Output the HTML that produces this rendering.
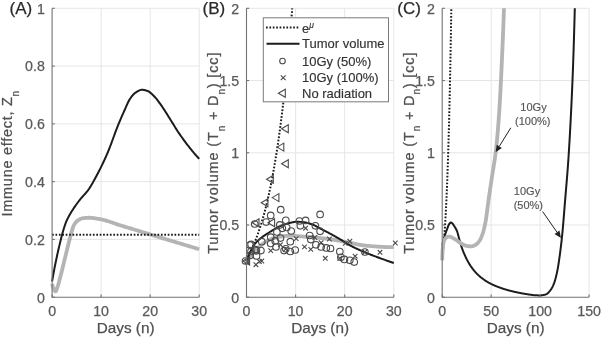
<!DOCTYPE html>
<html><head><meta charset="utf-8"><title>Figure</title>
<style>html,body{margin:0;padding:0;background:#fff;overflow:hidden}svg{display:block}text{stroke-linejoin:round}</style></head>
<body><svg width="601" height="337" viewBox="0 0 601 337" font-family="'Liberation Sans', Arial, Helvetica, sans-serif">
<rect width="601" height="337" fill="#fff"/>
<g stroke="#e3e3e3" stroke-width="0.9"><line x1="101.13" y1="8.3" x2="101.13" y2="297.2"/><line x1="150.17" y1="8.3" x2="150.17" y2="297.2"/><line x1="199.2" y1="8.3" x2="199.2" y2="297.2"/><line x1="52.1" y1="239.42" x2="199.2" y2="239.42"/><line x1="52.1" y1="181.64" x2="199.2" y2="181.64"/><line x1="52.1" y1="123.86" x2="199.2" y2="123.86"/><line x1="52.1" y1="66.08" x2="199.2" y2="66.08"/><line x1="52.1" y1="8.3" x2="199.2" y2="8.3"/></g>
<path d="M52.1 283.91 L52.84 286.57 L53.58 288.63 L54.32 290.04 L55.06 291.13 L55.8 291.33 L56.54 289.92 L57.27 287.72 L58.01 285.53 L58.75 282.95 L59.49 280.14 L60.23 277.32 L60.97 274.46 L61.71 271.5 L62.45 268.49 L63.19 265.43 L63.93 262.38 L64.67 259.35 L65.41 256.36 L66.14 253.34 L66.88 250.3 L67.62 247.27 L68.36 244.29 L69.1 241.39 L69.84 238.61 L70.58 235.9 L71.32 233.09 L72.06 230.36 L72.8 227.91 L73.54 225.94 L74.28 224.56 L75.02 223.4 L75.75 222.41 L76.49 221.59 L77.23 220.91 L77.97 220.38 L78.71 219.9 L79.45 219.47 L80.19 219.09 L80.93 218.77 L81.67 218.52 L82.41 218.35 L83.15 218.23 L83.89 218.13 L84.62 218.03 L85.36 217.95 L86.1 217.88 L86.84 217.82 L87.58 217.78 L88.32 217.76 L89.06 217.75 L89.8 217.77 L90.54 217.8 L91.28 217.85 L92.02 217.92 L92.76 218 L93.49 218.09 L94.23 218.19 L94.97 218.3 L95.71 218.42 L96.45 218.54 L97.19 218.67 L97.93 218.8 L98.67 218.93 L99.41 219.07 L100.15 219.2 L100.89 219.33 L101.63 219.48 L102.37 219.64 L103.1 219.82 L103.84 220 L104.58 220.2 L105.32 220.4 L106.06 220.62 L106.8 220.84 L107.54 221.07 L108.28 221.3 L109.02 221.54 L109.76 221.79 L110.5 222.04 L111.24 222.29 L111.97 222.55 L112.71 222.8 L113.45 223.06 L114.19 223.32 L114.93 223.57 L115.67 223.83 L116.41 224.08 L117.15 224.33 L117.89 224.58 L118.63 224.82 L119.37 225.05 L120.11 225.28 L120.85 225.5 L121.58 225.73 L122.32 225.95 L123.06 226.18 L123.8 226.4 L124.54 226.62 L125.28 226.85 L126.02 227.07 L126.76 227.29 L127.5 227.52 L128.24 227.74 L128.98 227.97 L129.72 228.19 L130.45 228.41 L131.19 228.64 L131.93 228.86 L132.67 229.08 L133.41 229.31 L134.15 229.53 L134.89 229.76 L135.63 229.98 L136.37 230.2 L137.11 230.43 L137.85 230.65 L138.59 230.88 L139.33 231.1 L140.06 231.33 L140.8 231.56 L141.54 231.78 L142.28 232.01 L143.02 232.24 L143.76 232.46 L144.5 232.69 L145.24 232.92 L145.98 233.15 L146.72 233.37 L147.46 233.6 L148.2 233.83 L148.93 234.06 L149.67 234.29 L150.41 234.51 L151.15 234.74 L151.89 234.97 L152.63 235.2 L153.37 235.42 L154.11 235.65 L154.85 235.88 L155.59 236.1 L156.33 236.33 L157.07 236.55 L157.81 236.78 L158.54 237 L159.28 237.23 L160.02 237.45 L160.76 237.67 L161.5 237.9 L162.24 238.12 L162.98 238.34 L163.72 238.57 L164.46 238.79 L165.2 239.01 L165.94 239.24 L166.68 239.46 L167.41 239.68 L168.15 239.91 L168.89 240.13 L169.63 240.35 L170.37 240.57 L171.11 240.8 L171.85 241.02 L172.59 241.24 L173.33 241.46 L174.07 241.69 L174.81 241.91 L175.55 242.13 L176.28 242.35 L177.02 242.58 L177.76 242.8 L178.5 243.02 L179.24 243.24 L179.98 243.47 L180.72 243.69 L181.46 243.91 L182.2 244.13 L182.94 244.36 L183.68 244.58 L184.42 244.8 L185.16 245.02 L185.89 245.25 L186.63 245.47 L187.37 245.69 L188.11 245.91 L188.85 246.13 L189.59 246.36 L190.33 246.58 L191.07 246.8 L191.81 247.02 L192.55 247.25 L193.29 247.47 L194.03 247.69 L194.76 247.91 L195.5 248.13 L196.24 248.36 L196.98 248.58 L197.72 248.8 L198.46 249.02 L199.2 249.24" fill="none" stroke="#b4b4b4" stroke-width="3.8" stroke-linejoin="round"/>
<path d="M52.1 281.31 L52.84 277.1 L53.58 273.02 L54.32 269.08 L55.06 265.3 L55.8 261.68 L56.54 258.18 L57.27 254.8 L58.01 251.5 L58.75 248.29 L59.49 245.11 L60.23 241.97 L60.97 238.92 L61.71 236 L62.45 233.28 L63.19 230.74 L63.93 228.31 L64.67 226 L65.41 223.86 L66.14 221.93 L66.88 220.21 L67.62 218.64 L68.36 217.19 L69.1 215.83 L69.84 214.53 L70.58 213.26 L71.32 212.03 L72.06 210.83 L72.8 209.66 L73.54 208.53 L74.28 207.42 L75.02 206.34 L75.75 205.28 L76.49 204.25 L77.23 203.23 L77.97 202.23 L78.71 201.24 L79.45 200.27 L80.19 199.33 L80.93 198.43 L81.67 197.57 L82.41 196.74 L83.15 195.93 L83.89 195.12 L84.62 194.31 L85.36 193.49 L86.1 192.64 L86.84 191.75 L87.58 190.81 L88.32 189.82 L89.06 188.76 L89.8 187.64 L90.54 186.46 L91.28 185.24 L92.02 183.98 L92.76 182.68 L93.49 181.36 L94.23 180.03 L94.97 178.68 L95.71 177.32 L96.45 175.95 L97.19 174.57 L97.93 173.17 L98.67 171.74 L99.41 170.3 L100.15 168.84 L100.89 167.36 L101.63 165.86 L102.37 164.34 L103.1 162.79 L103.84 161.22 L104.58 159.63 L105.32 158.01 L106.06 156.36 L106.8 154.69 L107.54 152.98 L108.28 151.2 L109.02 149.35 L109.76 147.45 L110.5 145.51 L111.24 143.53 L111.97 141.53 L112.71 139.51 L113.45 137.49 L114.19 135.47 L114.93 133.46 L115.67 131.47 L116.41 129.51 L117.15 127.6 L117.89 125.73 L118.63 123.92 L119.37 122.13 L120.11 120.37 L120.85 118.64 L121.58 116.92 L122.32 115.22 L123.06 113.54 L123.8 111.88 L124.54 110.24 L125.28 108.6 L126.02 106.91 L126.76 105.21 L127.5 103.55 L128.24 101.99 L128.98 100.58 L129.72 99.37 L130.45 98.27 L131.19 97.21 L131.93 96.21 L132.67 95.28 L133.41 94.43 L134.15 93.69 L134.89 93.06 L135.63 92.55 L136.37 92.08 L137.11 91.62 L137.85 91.19 L138.59 90.79 L139.33 90.44 L140.06 90.16 L140.8 89.94 L141.54 89.81 L142.28 89.77 L143.02 89.81 L143.76 89.91 L144.5 90.05 L145.24 90.23 L145.98 90.44 L146.72 90.68 L147.46 90.92 L148.2 91.23 L148.93 91.65 L149.67 92.16 L150.41 92.74 L151.15 93.38 L151.89 94.06 L152.63 94.77 L153.37 95.47 L154.11 96.2 L154.85 96.98 L155.59 97.83 L156.33 98.72 L157.07 99.65 L157.81 100.61 L158.54 101.6 L159.28 102.6 L160.02 103.61 L160.76 104.63 L161.5 105.67 L162.24 106.74 L162.98 107.85 L163.72 108.98 L164.46 110.13 L165.2 111.29 L165.94 112.47 L166.68 113.65 L167.41 114.83 L168.15 116 L168.89 117.17 L169.63 118.33 L170.37 119.5 L171.11 120.69 L171.85 121.9 L172.59 123.11 L173.33 124.32 L174.07 125.53 L174.81 126.74 L175.55 127.94 L176.28 129.12 L177.02 130.28 L177.76 131.42 L178.5 132.54 L179.24 133.62 L179.98 134.67 L180.72 135.71 L181.46 136.75 L182.2 137.78 L182.94 138.81 L183.68 139.82 L184.42 140.83 L185.16 141.83 L185.89 142.82 L186.63 143.8 L187.37 144.77 L188.11 145.74 L188.85 146.69 L189.59 147.63 L190.33 148.57 L191.07 149.49 L191.81 150.4 L192.55 151.3 L193.29 152.19 L194.03 153.06 L194.76 153.92 L195.5 154.77 L196.24 155.61 L196.98 156.43 L197.72 157.24 L198.46 158.04 L199.2 158.82" fill="none" stroke="#1c1c1c" stroke-width="2" stroke-linejoin="round"/>
<line x1="52.1" y1="234.8" x2="199.2" y2="234.8" stroke="#1c1c1c" stroke-width="2" stroke-dasharray="1.7 1.7"/>
<g stroke="#727272" stroke-width="1.1"><path d="M52.1 8.3 V297.2 H199.2" fill="none"/><line x1="52.1" y1="297.2" x2="54.8" y2="297.2"/><line x1="52.1" y1="239.42" x2="54.8" y2="239.42"/><line x1="52.1" y1="181.64" x2="54.8" y2="181.64"/><line x1="52.1" y1="123.86" x2="54.8" y2="123.86"/><line x1="52.1" y1="66.08" x2="54.8" y2="66.08"/><line x1="52.1" y1="8.3" x2="54.8" y2="8.3"/><line x1="52.1" y1="297.2" x2="52.1" y2="294.5"/><line x1="101.13" y1="297.2" x2="101.13" y2="294.5"/><line x1="150.17" y1="297.2" x2="150.17" y2="294.5"/><line x1="199.2" y1="297.2" x2="199.2" y2="294.5"/></g>
<g font-size="14.2" fill="#5a5a5a" stroke="#5a5a5a" stroke-width="0.25"><text x="44.8" y="302.5" text-anchor="end">0</text><text x="44.8" y="244.72" text-anchor="end">0.2</text><text x="44.8" y="186.94" text-anchor="end">0.4</text><text x="44.8" y="129.16" text-anchor="end">0.6</text><text x="44.8" y="71.38" text-anchor="end">0.8</text><text x="44.8" y="13.6" text-anchor="end">1</text><text x="52.1" y="315.9" text-anchor="middle">0</text><text x="101.13" y="315.9" text-anchor="middle">10</text><text x="150.17" y="315.9" text-anchor="middle">20</text><text x="199.2" y="315.9" text-anchor="middle">30</text></g>
<text x="125.65" y="333.2" font-size="15.3" fill="#505050" stroke="#505050" stroke-width="0.25" text-anchor="middle">Days (n)</text>
<g stroke="#e3e3e3" stroke-width="0.9"><line x1="295.6" y1="8.3" x2="295.6" y2="297.2"/><line x1="344.7" y1="8.3" x2="344.7" y2="297.2"/><line x1="393.8" y1="8.3" x2="393.8" y2="297.2"/><line x1="246.5" y1="224.97" x2="393.8" y2="224.97"/><line x1="246.5" y1="152.75" x2="393.8" y2="152.75"/><line x1="246.5" y1="80.53" x2="393.8" y2="80.53"/><line x1="246.5" y1="8.3" x2="393.8" y2="8.3"/></g>
<path d="M246.5 261.09 L247.24 260.01 L247.98 258.97 L248.72 257.96 L249.46 256.98 L250.2 256.04 L250.94 255.14 L251.68 254.28 L252.42 253.45 L253.16 252.65 L253.9 251.87 L254.64 251.13 L255.38 250.41 L256.12 249.71 L256.86 249.03 L257.6 248.35 L258.34 247.67 L259.08 246.99 L259.82 246.33 L260.56 245.67 L261.3 245.04 L262.04 244.43 L262.78 243.84 L263.52 243.28 L264.26 242.75 L265.01 242.26 L265.75 241.81 L266.49 241.4 L267.23 241 L267.97 240.62 L268.71 240.24 L269.45 239.88 L270.19 239.53 L270.93 239.2 L271.67 238.89 L272.41 238.6 L273.15 238.33 L273.89 238.09 L274.63 237.87 L275.37 237.67 L276.11 237.51 L276.85 237.36 L277.59 237.21 L278.33 237.06 L279.07 236.92 L279.81 236.78 L280.55 236.64 L281.29 236.51 L282.03 236.39 L282.77 236.28 L283.51 236.17 L284.25 236.07 L284.99 235.98 L285.73 235.9 L286.47 235.83 L287.21 235.77 L287.95 235.72 L288.69 235.69 L289.43 235.67 L290.17 235.66 L290.91 235.67 L291.65 235.69 L292.39 235.72 L293.13 235.75 L293.87 235.79 L294.61 235.84 L295.35 235.9 L296.09 235.96 L296.83 236.02 L297.57 236.09 L298.31 236.16 L299.05 236.23 L299.79 236.29 L300.53 236.36 L301.27 236.42 L302.02 236.48 L302.76 236.54 L303.5 236.6 L304.24 236.65 L304.98 236.7 L305.72 236.76 L306.46 236.81 L307.2 236.87 L307.94 236.92 L308.68 236.98 L309.42 237.03 L310.16 237.09 L310.9 237.15 L311.64 237.21 L312.38 237.27 L313.12 237.33 L313.86 237.39 L314.6 237.45 L315.34 237.52 L316.08 237.59 L316.82 237.65 L317.56 237.73 L318.3 237.8 L319.04 237.87 L319.78 237.95 L320.52 238.03 L321.26 238.1 L322 238.19 L322.74 238.27 L323.48 238.35 L324.22 238.44 L324.96 238.53 L325.7 238.62 L326.44 238.71 L327.18 238.81 L327.92 238.9 L328.66 239 L329.4 239.1 L330.14 239.2 L330.88 239.3 L331.62 239.41 L332.36 239.52 L333.1 239.64 L333.84 239.76 L334.58 239.88 L335.32 240.01 L336.06 240.14 L336.8 240.28 L337.54 240.42 L338.28 240.56 L339.03 240.7 L339.77 240.84 L340.51 240.99 L341.25 241.13 L341.99 241.27 L342.73 241.42 L343.47 241.56 L344.21 241.7 L344.95 241.83 L345.69 241.97 L346.43 242.11 L347.17 242.25 L347.91 242.39 L348.65 242.54 L349.39 242.69 L350.13 242.85 L350.87 243 L351.61 243.16 L352.35 243.31 L353.09 243.47 L353.83 243.63 L354.57 243.78 L355.31 243.93 L356.05 244.08 L356.79 244.23 L357.53 244.38 L358.27 244.52 L359.01 244.66 L359.75 244.79 L360.49 244.92 L361.23 245.05 L361.97 245.17 L362.71 245.28 L363.45 245.38 L364.19 245.48 L364.93 245.57 L365.67 245.66 L366.41 245.73 L367.15 245.79 L367.89 245.86 L368.63 245.92 L369.37 245.98 L370.11 246.04 L370.85 246.1 L371.59 246.16 L372.33 246.22 L373.07 246.28 L373.81 246.33 L374.55 246.39 L375.29 246.44 L376.04 246.5 L376.78 246.55 L377.52 246.6 L378.26 246.65 L379 246.7 L379.74 246.74 L380.48 246.79 L381.22 246.83 L381.96 246.87 L382.7 246.91 L383.44 246.95 L384.18 246.98 L384.92 247.02 L385.66 247.05 L386.4 247.08 L387.14 247.1 L387.88 247.13 L388.62 247.15 L389.36 247.17 L390.1 247.18 L390.84 247.2 L391.58 247.21 L392.32 247.21 L393.06 247.22 L393.8 247.22" fill="none" stroke="#b4b4b4" stroke-width="3.8" stroke-linejoin="round"/>
<path d="M246.5 258.92 L246.88 258.27 L247.27 257.6 L247.65 256.92 L248.04 256.23 L248.42 255.53 L248.81 254.81 L249.19 254.09 L249.57 253.35 L249.96 252.6 L250.34 251.83 L250.73 251.06 L251.11 250.27 L251.5 249.46 L251.88 248.65 L252.26 247.81 L252.65 246.97 L253.03 246.11 L253.42 245.23 L253.8 244.34 L254.19 243.44 L254.57 242.52 L254.95 241.58 L255.34 240.63 L255.72 239.66 L256.11 238.67 L256.49 237.67 L256.88 236.65 L257.26 235.61 L257.64 234.56 L258.03 233.48 L258.41 232.39 L258.8 231.28 L259.18 230.15 L259.57 229 L259.95 227.84 L260.34 226.65 L260.72 225.44 L261.1 224.21 L261.49 222.96 L261.87 221.69 L262.26 220.39 L262.64 219.08 L263.03 217.74 L263.41 216.38 L263.79 214.99 L264.18 213.59 L264.56 212.15 L264.95 210.7 L265.33 209.22 L265.72 207.71 L266.1 206.18 L266.48 204.62 L266.87 203.03 L267.25 201.42 L267.64 199.78 L268.02 198.11 L268.41 196.41 L268.79 194.68 L269.17 192.93 L269.56 191.14 L269.94 189.33 L270.33 187.48 L270.71 185.6 L271.1 183.69 L271.48 181.74 L271.86 179.76 L272.25 177.75 L272.63 175.71 L273.02 173.62 L273.4 171.51 L273.79 169.36 L274.17 167.17 L274.55 164.94 L274.94 162.67 L275.32 160.37 L275.71 158.02 L276.09 155.64 L276.48 153.21 L276.86 150.75 L277.24 148.24 L277.63 145.69 L278.01 143.09 L278.4 140.45 L278.78 137.77 L279.17 135.04 L279.55 132.26 L279.93 129.43 L280.32 126.56 L280.7 123.64 L281.09 120.66 L281.47 117.64 L281.86 114.56 L282.24 111.44 L282.62 108.25 L283.01 105.02 L283.39 101.72 L283.78 98.38 L284.16 94.97 L284.55 91.51 L284.93 87.98 L285.31 84.4 L285.7 80.75 L286.08 77.05 L286.47 73.28 L286.85 69.44 L287.24 65.54 L287.62 61.57 L288.01 57.53 L288.39 53.43 L288.77 49.25 L289.16 45 L289.54 40.68 L289.93 36.29 L290.31 31.82 L290.7 27.28 L291.08 22.65 L291.46 17.95 L291.85 13.17 L292.23 8.3" fill="none" stroke="#1c1c1c" stroke-width="2" stroke-dasharray="1.7 1.7"/>
<path d="M246.5 260.37 L247.24 258.61 L247.98 256.91 L248.72 255.26 L249.46 253.67 L250.2 252.15 L250.94 250.67 L251.68 249.2 L252.42 247.75 L253.16 246.4 L253.9 245.17 L254.64 244.12 L255.38 243.21 L256.12 242.38 L256.86 241.61 L257.6 240.89 L258.34 240.22 L259.08 239.58 L259.82 238.97 L260.56 238.38 L261.3 237.8 L262.04 237.22 L262.78 236.67 L263.52 236.14 L264.26 235.64 L265.01 235.15 L265.75 234.67 L266.49 234.19 L267.23 233.7 L267.97 233.22 L268.71 232.73 L269.45 232.25 L270.19 231.77 L270.93 231.31 L271.67 230.84 L272.41 230.39 L273.15 229.94 L273.89 229.49 L274.63 229.05 L275.37 228.61 L276.11 228.18 L276.85 227.77 L277.59 227.38 L278.33 227.02 L279.07 226.67 L279.81 226.33 L280.55 226.01 L281.29 225.7 L282.03 225.41 L282.77 225.12 L283.51 224.86 L284.25 224.59 L284.99 224.33 L285.73 224.07 L286.47 223.83 L287.21 223.59 L287.95 223.37 L288.69 223.17 L289.43 222.98 L290.17 222.81 L290.91 222.66 L291.65 222.49 L292.39 222.34 L293.13 222.19 L293.87 222.05 L294.61 221.94 L295.35 221.86 L296.09 221.81 L296.83 221.8 L297.57 221.81 L298.31 221.83 L299.05 221.86 L299.79 221.89 L300.53 221.94 L301.27 221.99 L302.02 222.04 L302.76 222.1 L303.5 222.17 L304.24 222.27 L304.98 222.4 L305.72 222.55 L306.46 222.71 L307.2 222.9 L307.94 223.09 L308.68 223.3 L309.42 223.52 L310.16 223.75 L310.9 223.98 L311.64 224.21 L312.38 224.48 L313.12 224.78 L313.86 225.11 L314.6 225.46 L315.34 225.83 L316.08 226.22 L316.82 226.62 L317.56 227.03 L318.3 227.44 L319.04 227.85 L319.78 228.25 L320.52 228.65 L321.26 229.03 L322 229.41 L322.74 229.79 L323.48 230.17 L324.22 230.55 L324.96 230.93 L325.7 231.32 L326.44 231.7 L327.18 232.09 L327.92 232.48 L328.66 232.87 L329.4 233.27 L330.14 233.67 L330.88 234.07 L331.62 234.47 L332.36 234.88 L333.1 235.29 L333.84 235.7 L334.58 236.12 L335.32 236.53 L336.06 236.95 L336.8 237.38 L337.54 237.8 L338.28 238.23 L339.03 238.66 L339.77 239.1 L340.51 239.54 L341.25 239.98 L341.99 240.42 L342.73 240.87 L343.47 241.34 L344.21 241.82 L344.95 242.3 L345.69 242.79 L346.43 243.28 L347.17 243.75 L347.91 244.21 L348.65 244.64 L349.39 245.06 L350.13 245.46 L350.87 245.85 L351.61 246.23 L352.35 246.61 L353.09 246.99 L353.83 247.35 L354.57 247.71 L355.31 248.07 L356.05 248.42 L356.79 248.76 L357.53 249.1 L358.27 249.44 L359.01 249.77 L359.75 250.1 L360.49 250.43 L361.23 250.75 L361.97 251.08 L362.71 251.39 L363.45 251.71 L364.19 252.03 L364.93 252.34 L365.67 252.65 L366.41 252.96 L367.15 253.26 L367.89 253.56 L368.63 253.86 L369.37 254.15 L370.11 254.44 L370.85 254.73 L371.59 255.01 L372.33 255.3 L373.07 255.58 L373.81 255.86 L374.55 256.13 L375.29 256.41 L376.04 256.68 L376.78 256.96 L377.52 257.23 L378.26 257.5 L379 257.77 L379.74 258.05 L380.48 258.32 L381.22 258.59 L381.96 258.85 L382.7 259.12 L383.44 259.39 L384.18 259.65 L384.92 259.91 L385.66 260.17 L386.4 260.44 L387.14 260.69 L387.88 260.95 L388.62 261.21 L389.36 261.46 L390.1 261.72 L390.84 261.97 L391.58 262.22 L392.32 262.47 L393.06 262.72 L393.8 262.97" fill="none" stroke="#1c1c1c" stroke-width="2" stroke-linejoin="round"/>
<g fill="none" stroke="#4a4a4a" stroke-width="1.1"><circle cx="254.7" cy="224" r="3.3"/><circle cx="266.2" cy="222.1" r="3.3"/><circle cx="270.7" cy="215.4" r="3.3"/><circle cx="276.9" cy="231.9" r="3.3"/><circle cx="282.3" cy="228.3" r="3.3"/><circle cx="285.8" cy="220.3" r="3.3"/><circle cx="286.7" cy="227.5" r="3.3"/><circle cx="291.2" cy="231" r="3.3"/><circle cx="270.7" cy="237.2" r="3.3"/><circle cx="270.7" cy="243.5" r="3.3"/><circle cx="280.5" cy="238.1" r="3.3"/><circle cx="290.3" cy="241.7" r="3.3"/><circle cx="285.8" cy="248.8" r="3.3"/><circle cx="290.3" cy="251.5" r="3.3"/><circle cx="276" cy="247" r="3.3"/><circle cx="251.1" cy="244.4" r="3.3"/><circle cx="255.6" cy="249.7" r="3.3"/><circle cx="260.9" cy="250.6" r="3.3"/><circle cx="256.5" cy="255.9" r="3.3"/><circle cx="261.8" cy="241.7" r="3.3"/><circle cx="280.7" cy="209.7" r="3.3"/><circle cx="299.4" cy="221" r="3.3"/><circle cx="305.6" cy="220.4" r="3.3"/><circle cx="320.1" cy="214.4" r="3.3"/><circle cx="300.3" cy="225.8" r="3.3"/><circle cx="315.4" cy="225.8" r="3.3"/><circle cx="279.8" cy="224.9" r="3.3"/><circle cx="320.1" cy="231.3" r="3.3"/><circle cx="309.7" cy="235.5" r="3.3"/><circle cx="310.8" cy="239.6" r="3.3"/><circle cx="315.9" cy="244.8" r="3.3"/><circle cx="321.1" cy="246.9" r="3.3"/><circle cx="326.3" cy="247.9" r="3.3"/><circle cx="330.5" cy="248.5" r="3.3"/><circle cx="339.8" cy="251.5" r="3.3"/><circle cx="340.9" cy="257.3" r="3.3"/><circle cx="295.2" cy="250" r="3.3"/><circle cx="364.9" cy="252" r="3.3"/><circle cx="344.4" cy="259.4" r="3.3"/><circle cx="349.8" cy="260.3" r="3.3"/><circle cx="354.2" cy="262.1" r="3.3"/><circle cx="275.2" cy="240.9" r="3.3"/><circle cx="284.1" cy="250.6" r="3.3"/><circle cx="245.5" cy="261" r="3.3"/><circle cx="249.9" cy="245" r="3.3"/><circle cx="251" cy="251.4" r="3.3"/><circle cx="256.4" cy="250.8" r="3.3"/><circle cx="249.9" cy="255.5" r="3.3"/><path d="M303.3 225.9 L307.9 230.5 M303.3 230.5 L307.9 225.9"/><path d="M293.9 236.3 L298.5 240.9 M293.9 240.9 L298.5 236.3"/><path d="M302.2 244.6 L306.8 249.2 M302.2 249.2 L306.8 244.6"/><path d="M308.5 247.1 L313.1 251.7 M308.5 251.7 L313.1 247.1"/><path d="M312.6 235.2 L317.2 239.8 M312.6 239.8 L317.2 235.2"/><path d="M327.1 236.7 L331.7 241.3 M327.1 241.3 L331.7 236.7"/><path d="M323 256 L327.6 260.6 M323 260.6 L327.6 256"/><path d="M337.5 256 L342.1 260.6 M337.5 260.6 L342.1 256"/><path d="M318.8 240.4 L323.4 245 M318.8 245 L323.4 240.4"/><path d="M347.5 239 L352.1 243.6 M347.5 243.6 L352.1 239"/><path d="M343 241.1 L347.6 245.7 M343 245.7 L347.6 241.1"/><path d="M352.8 253.9 L357.4 258.5 M352.8 258.5 L357.4 253.9"/><path d="M377.7 250 L382.3 254.6 M377.7 254.6 L382.3 250"/><path d="M393 240.7 L397.6 245.3 M393 245.3 L397.6 240.7"/><path d="M362.6 249.7 L367.2 254.3 M362.6 254.3 L367.2 249.7"/><path d="M259.5 258.7 L264.1 263.3 M259.5 263.3 L264.1 258.7"/><path d="M253.6 262.4 L258.2 267 M253.6 267 L258.2 262.4"/><path d="M268.4 248.3 L273 252.9 M268.4 252.9 L273 248.3"/><path d="M278.1 242.4 L282.7 247 M278.1 247 L282.7 242.4"/><path d="M283.3 246.8 L287.9 251.4 M283.3 251.4 L287.9 246.8"/><path d="M244.7 259.4 L249.3 264 M244.7 264 L249.3 259.4"/><path d="M257.1 259.2 L261.7 263.8 M257.1 263.8 L261.7 259.2"/><path d="M281.6 128.8 L288.3 124.8 L288.3 132.8 Z"/><path d="M277.1 147.1 L283.8 143.1 L283.8 151.1 Z"/><path d="M281.6 163.7 L288.3 159.7 L288.3 167.7 Z"/><path d="M266.6 179.3 L273.3 175.3 L273.3 183.3 Z"/><path d="M272.2 197.6 L278.9 193.6 L278.9 201.6 Z"/><path d="M261.2 202.8 L267.9 198.8 L267.9 206.8 Z"/><path d="M267.9 222.8 L274.6 218.8 L274.6 226.8 Z"/><path d="M252.3 222.8 L259 218.8 L259 226.8 Z"/><path d="M242.9 261 L249.6 257 L249.6 265 Z"/></g>
<rect x="263.3" y="17.8" width="125.2" height="84" fill="#fff" stroke="#7a7a7a" stroke-width="1"/>
<line x1="266" y1="27.5" x2="299.5" y2="27.5" stroke="#1c1c1c" stroke-width="2" stroke-dasharray="1.7 1.7"/>
<line x1="266.5" y1="43.8" x2="299.5" y2="43.8" stroke="#1c1c1c" stroke-width="2"/>
<circle cx="282.5" cy="61.0" r="2.8" fill="none" stroke="#4a4a4a" stroke-width="1.1"/>
<path d="M280.8 75.4 L285.6 80.2 M280.8 80.2 L285.6 75.4" stroke="#4a4a4a" stroke-width="1.1"/>
<path d="M278.4 93.3 L285.3 89.3 L285.3 97.3 Z" fill="none" stroke="#4a4a4a" stroke-width="1.1"/>
<g font-size="13" fill="#333" stroke="#333" stroke-width="0.15"><text x="302" y="32.8">e<tspan font-size="8.5" dy="-5" font-style="italic">&#956;</tspan></text><text x="302" y="48.4">Tumor volume</text><text x="302" y="65.6">10Gy (50%)</text><text x="302" y="82.4">10Gy (100%)</text><text x="302" y="97.9">No radiation</text></g>
<g stroke="#727272" stroke-width="1.1"><path d="M246.5 8.3 V297.2 H393.8" fill="none"/><line x1="246.5" y1="297.2" x2="249.2" y2="297.2"/><line x1="246.5" y1="224.97" x2="249.2" y2="224.97"/><line x1="246.5" y1="152.75" x2="249.2" y2="152.75"/><line x1="246.5" y1="80.53" x2="249.2" y2="80.53"/><line x1="246.5" y1="8.3" x2="249.2" y2="8.3"/><line x1="246.5" y1="297.2" x2="246.5" y2="294.5"/><line x1="295.6" y1="297.2" x2="295.6" y2="294.5"/><line x1="344.7" y1="297.2" x2="344.7" y2="294.5"/><line x1="393.8" y1="297.2" x2="393.8" y2="294.5"/></g>
<g font-size="14.2" fill="#5a5a5a" stroke="#5a5a5a" stroke-width="0.25"><text x="239.2" y="302.5" text-anchor="end">0</text><text x="239.2" y="230.28" text-anchor="end">0.5</text><text x="239.2" y="158.05" text-anchor="end">1</text><text x="239.2" y="85.83" text-anchor="end">1.5</text><text x="239.2" y="13.6" text-anchor="end">2</text><text x="246.5" y="315.9" text-anchor="middle">0</text><text x="295.6" y="315.9" text-anchor="middle">10</text><text x="344.7" y="315.9" text-anchor="middle">20</text><text x="393.8" y="315.9" text-anchor="middle">30</text></g>
<text x="320.15" y="333.2" font-size="15.3" fill="#505050" stroke="#505050" stroke-width="0.25" text-anchor="middle">Days (n)</text>
<g stroke="#e3e3e3" stroke-width="0.9"><line x1="491.17" y1="8.3" x2="491.17" y2="297.2"/><line x1="540.13" y1="8.3" x2="540.13" y2="297.2"/><line x1="589.1" y1="8.3" x2="589.1" y2="297.2"/><line x1="442.2" y1="224.97" x2="589.1" y2="224.97"/><line x1="442.2" y1="152.75" x2="589.1" y2="152.75"/><line x1="442.2" y1="80.53" x2="589.1" y2="80.53"/><line x1="442.2" y1="8.3" x2="589.1" y2="8.3"/></g>
<path d="M442.2 258.92 L442.28 258.27 L442.35 257.6 L442.43 256.92 L442.51 256.23 L442.58 255.53 L442.66 254.81 L442.74 254.09 L442.81 253.35 L442.89 252.6 L442.97 251.83 L443.04 251.06 L443.12 250.27 L443.2 249.46 L443.27 248.65 L443.35 247.81 L443.43 246.97 L443.5 246.11 L443.58 245.23 L443.66 244.34 L443.73 243.44 L443.81 242.52 L443.89 241.58 L443.96 240.63 L444.04 239.66 L444.12 238.67 L444.19 237.67 L444.27 236.65 L444.35 235.61 L444.42 234.56 L444.5 233.48 L444.58 232.39 L444.65 231.28 L444.73 230.15 L444.81 229 L444.88 227.84 L444.96 226.65 L445.04 225.44 L445.11 224.21 L445.19 222.96 L445.27 221.69 L445.34 220.39 L445.42 219.08 L445.5 217.74 L445.57 216.38 L445.65 214.99 L445.73 213.59 L445.8 212.15 L445.88 210.7 L445.96 209.22 L446.03 207.71 L446.11 206.18 L446.19 204.62 L446.26 203.03 L446.34 201.42 L446.42 199.78 L446.49 198.11 L446.57 196.41 L446.65 194.68 L446.72 192.93 L446.8 191.14 L446.88 189.33 L446.95 187.48 L447.03 185.6 L447.11 183.69 L447.18 181.74 L447.26 179.76 L447.34 177.75 L447.41 175.71 L447.49 173.62 L447.57 171.51 L447.64 169.36 L447.72 167.17 L447.8 164.94 L447.87 162.67 L447.95 160.37 L448.03 158.02 L448.1 155.64 L448.18 153.21 L448.26 150.75 L448.33 148.24 L448.41 145.69 L448.49 143.09 L448.56 140.45 L448.64 137.77 L448.72 135.04 L448.79 132.26 L448.87 129.43 L448.95 126.56 L449.02 123.64 L449.1 120.66 L449.18 117.64 L449.25 114.56 L449.33 111.44 L449.41 108.25 L449.48 105.02 L449.56 101.72 L449.64 98.38 L449.71 94.97 L449.79 91.51 L449.87 87.98 L449.94 84.4 L450.02 80.75 L450.1 77.05 L450.17 73.28 L450.25 69.44 L450.33 65.54 L450.4 61.57 L450.48 57.53 L450.56 53.43 L450.63 49.25 L450.71 45 L450.79 40.68 L450.86 36.29 L450.94 31.82 L451.02 27.28 L451.09 22.65 L451.17 17.95 L451.25 13.17 L451.32 8.3" fill="none" stroke="#1c1c1c" stroke-width="2" stroke-dasharray="1.7 1.7"/>
<path d="M442.2 245.2 L442.53 244 L442.86 242.8 L443.2 241.59 L443.53 240.37 L443.86 239.1 L444.19 237.8 L444.53 236.53 L444.86 235.36 L445.19 234.31 L445.52 233.32 L445.86 232.38 L446.19 231.47 L446.52 230.59 L446.85 229.73 L447.19 228.87 L447.52 227.98 L447.85 227.05 L448.18 226.13 L448.51 225.28 L448.85 224.58 L449.18 224.08 L449.51 223.64 L449.84 223.23 L450.18 222.88 L450.51 222.64 L450.84 222.52 L451.17 222.56 L451.51 222.72 L451.84 222.96 L452.17 223.25 L452.5 223.55 L452.83 223.9 L453.17 224.35 L453.5 224.85 L453.83 225.4 L454.16 225.96 L454.5 226.51 L454.83 227.04 L455.16 227.57 L455.49 228.12 L455.83 228.69 L456.16 229.31 L456.49 229.97 L456.82 230.71 L457.16 231.55 L457.49 232.55 L457.82 233.67 L458.15 234.88 L458.48 236.16 L458.82 237.47 L459.15 238.79 L459.48 240.1 L459.81 241.38 L460.15 242.6 L460.48 243.74 L460.81 244.8 L461.14 245.79 L461.48 246.76 L461.81 247.7 L462.14 248.62 L462.47 249.52 L462.8 250.4 L463.14 251.25 L463.47 252.08 L463.8 252.9 L464.13 253.69 L464.47 254.46 L464.8 255.22 L465.13 255.95 L465.46 256.67 L465.8 257.38 L466.13 258.06 L466.46 258.73 L466.79 259.39 L467.13 260.03 L467.46 260.65 L467.79 261.26 L468.12 261.86 L468.45 262.44 L468.79 263.01 L469.12 263.57 L469.45 264.11 L469.78 264.65 L470.12 265.17 L470.45 265.68 L470.78 266.18 L471.11 266.67 L471.45 267.15 L471.78 267.61 L472.11 268.07 L472.44 268.52 L472.77 268.96 L473.11 269.39 L473.44 269.81 L473.77 270.22 L474.1 270.63 L474.44 271.02 L474.77 271.41 L475.1 271.79 L475.43 272.17 L475.77 272.53 L476.1 272.89 L476.43 273.24 L476.76 273.59 L477.1 273.93 L477.43 274.26 L477.76 274.58 L478.09 274.9 L478.42 275.22 L478.76 275.52 L479.09 275.83 L479.42 276.12 L479.75 276.41 L480.09 276.7 L480.42 276.98 L480.75 277.26 L481.08 277.53 L481.42 277.79 L481.75 278.05 L482.08 278.31 L482.41 278.56 L482.74 278.81 L483.08 279.06 L483.41 279.3 L483.74 279.53 L484.07 279.76 L484.41 279.99 L484.74 280.22 L485.07 280.44 L485.4 280.65 L485.74 280.87 L486.07 281.08 L486.4 281.29 L486.73 281.49 L487.07 281.69 L487.4 281.89 L487.73 282.08 L488.06 282.27 L488.39 282.46 L488.73 282.65 L489.06 282.83 L489.39 283.01 L489.72 283.19 L490.06 283.37 L490.39 283.54 L490.72 283.71 L491.05 283.88 L491.39 284.04 L491.72 284.21 L492.05 284.37 L492.38 284.53 L492.71 284.68 L493.05 284.84 L493.38 284.99 L493.71 285.14 L494.04 285.29 L494.38 285.44 L494.71 285.58 L495.04 285.72 L495.37 285.87 L495.71 286 L496.04 286.14 L496.37 286.28 L496.7 286.41 L497.04 286.55 L497.37 286.68 L497.7 286.81 L498.03 286.93 L498.36 287.06 L498.7 287.18 L499.03 287.31 L499.36 287.43 L499.69 287.55 L500.03 287.67 L500.36 287.79 L500.69 287.9 L501.02 288.02 L501.36 288.13 L501.69 288.24 L502.02 288.36 L502.35 288.47 L502.69 288.57 L503.02 288.68 L503.35 288.79 L503.68 288.89 L504.01 289 L504.35 289.1 L504.68 289.2 L505.01 289.3 L505.34 289.4 L505.68 289.5 L506.01 289.6 L506.34 289.7 L506.67 289.79 L507.01 289.89 L507.34 289.98 L507.67 290.08 L508 290.17 L508.33 290.26 L508.67 290.35 L509 290.44 L509.33 290.53 L509.66 290.62 L510 290.7 L510.33 290.79 L510.66 290.87 L510.99 290.96 L511.33 291.04 L511.66 291.13 L511.99 291.21 L512.32 291.29 L512.66 291.37 L512.99 291.45 L513.32 291.53 L513.65 291.61 L513.98 291.68 L514.32 291.76 L514.65 291.84 L514.98 291.91 L515.31 291.99 L515.65 292.06 L515.98 292.13 L516.31 292.21 L516.64 292.28 L516.98 292.35 L517.31 292.42 L517.64 292.49 L517.97 292.56 L518.3 292.63 L518.64 292.69 L518.97 292.76 L519.3 292.83 L519.63 292.89 L519.97 292.96 L520.3 293.02 L520.63 293.09 L520.96 293.15 L521.3 293.21 L521.63 293.27 L521.96 293.34 L522.29 293.4 L522.63 293.46 L522.96 293.52 L523.29 293.57 L523.62 293.63 L523.95 293.69 L524.29 293.75 L524.62 293.8 L524.95 293.86 L525.28 293.92 L525.62 293.97 L525.95 294.02 L526.28 294.08 L526.61 294.13 L526.95 294.18 L527.28 294.23 L527.61 294.29 L527.94 294.34 L528.27 294.39 L528.61 294.44 L528.94 294.49 L529.27 294.54 L529.6 294.59 L529.94 294.63 L530.27 294.68 L530.6 294.73 L530.93 294.77 L531.27 294.81 L531.6 294.86 L531.93 294.9 L532.26 294.95 L532.6 295 L532.93 295.04 L533.26 295.09 L533.59 295.13 L533.92 295.18 L534.26 295.21 L534.59 295.25 L534.92 295.28 L535.25 295.31 L535.59 295.33 L535.92 295.34 L536.25 295.35 L536.58 295.36 L536.92 295.36 L537.25 295.37 L537.58 295.37 L537.91 295.38 L538.24 295.38 L538.58 295.39 L538.91 295.39 L539.24 295.39 L539.57 295.39 L539.91 295.39 L540.24 295.39 L540.57 295.39 L540.9 295.37 L541.24 295.35 L541.57 295.31 L541.9 295.28 L542.23 295.23 L542.57 295.18 L542.9 295.13 L543.23 295.07 L543.56 295.01 L543.89 294.95 L544.23 294.88 L544.56 294.8 L544.89 294.71 L545.22 294.61 L545.56 294.49 L545.89 294.35 L546.22 294.2 L546.55 294.04 L546.89 293.86 L547.22 293.66 L547.55 293.42 L547.88 293.14 L548.21 292.82 L548.55 292.46 L548.88 292.08 L549.21 291.69 L549.54 291.3 L549.88 290.89 L550.21 290.47 L550.54 290.03 L550.87 289.56 L551.21 289.08 L551.54 288.56 L551.87 288.01 L552.2 287.42 L552.54 286.78 L552.87 286.09 L553.2 285.36 L553.53 284.57 L553.86 283.73 L554.2 282.83 L554.53 281.86 L554.86 280.84 L555.19 279.74 L555.53 278.57 L555.86 277.33 L556.19 276.01 L556.52 274.6 L556.86 273.1 L557.19 271.52 L557.52 269.82 L557.85 268 L558.18 266.06 L558.52 264.01 L558.85 261.84 L559.18 259.58 L559.51 257.23 L559.85 254.81 L560.18 252.31 L560.51 249.71 L560.84 247.01 L561.18 244.2 L561.51 241.28 L561.84 238.23 L562.17 235.04 L562.51 231.67 L562.84 228.09 L563.17 224.33 L563.5 220.4 L563.83 216.34 L564.17 212.19 L564.5 208 L564.83 203.82 L565.16 199.71 L565.5 195.69 L565.83 191.71 L566.16 187.76 L566.49 183.8 L566.83 179.81 L567.16 175.75 L567.49 171.57 L567.82 167.22 L568.16 162.65 L568.49 157.79 L568.82 152.64 L569.15 147.29 L569.48 141.71 L569.82 135.92 L570.15 129.9 L570.48 123.65 L570.81 117.14 L571.15 110.4 L571.48 103.48 L571.81 96.33 L572.14 88.85 L572.48 80.95 L572.81 72.52 L573.14 63.47 L573.47 53.8 L573.8 43.49 L574.14 32.49 L574.47 20.78 L574.8 8.3" fill="none" stroke="#1c1c1c" stroke-width="2" stroke-linejoin="round"/>
<path d="M442.2 260.37 L442.35 255.52 L442.51 251.55 L442.66 249.29 L442.82 247.58 L442.97 246.25 L443.13 245.17 L443.28 244.18 L443.44 243.29 L443.59 242.51 L443.75 241.85 L443.9 241.32 L444.06 240.91 L444.21 240.53 L444.37 240.18 L444.52 239.85 L444.68 239.54 L444.83 239.25 L444.99 238.98 L445.14 238.74 L445.3 238.51 L445.45 238.31 L445.61 238.13 L445.76 237.97 L445.92 237.83 L446.07 237.72 L446.23 237.62 L446.38 237.52 L446.54 237.42 L446.69 237.33 L446.85 237.24 L447 237.15 L447.16 237.07 L447.31 237 L447.47 236.92 L447.62 236.85 L447.78 236.79 L447.93 236.74 L448.09 236.69 L448.24 236.64 L448.4 236.6 L448.55 236.57 L448.7 236.55 L448.86 236.54 L449.01 236.53 L449.17 236.53 L449.32 236.54 L449.48 236.56 L449.63 236.58 L449.79 236.61 L449.94 236.64 L450.1 236.68 L450.25 236.72 L450.41 236.77 L450.56 236.83 L450.72 236.89 L450.87 236.95 L451.03 237.02 L451.18 237.09 L451.34 237.16 L451.49 237.24 L451.65 237.32 L451.8 237.4 L451.96 237.48 L452.11 237.57 L452.27 237.65 L452.42 237.74 L452.58 237.83 L452.73 237.92 L452.89 238.01 L453.04 238.11 L453.2 238.2 L453.35 238.29 L453.51 238.38 L453.66 238.47 L453.82 238.55 L453.97 238.64 L454.13 238.73 L454.28 238.81 L454.44 238.89 L454.59 238.98 L454.75 239.06 L454.9 239.15 L455.05 239.24 L455.21 239.34 L455.36 239.44 L455.52 239.53 L455.67 239.64 L455.83 239.74 L455.98 239.84 L456.14 239.95 L456.29 240.06 L456.45 240.16 L456.6 240.27 L456.76 240.39 L456.91 240.5 L457.07 240.61 L457.22 240.72 L457.38 240.84 L457.53 240.95 L457.69 241.06 L457.84 241.18 L458 241.29 L458.15 241.41 L458.31 241.52 L458.46 241.63 L458.62 241.75 L458.77 241.86 L458.93 241.97 L459.08 242.08 L459.24 242.19 L459.39 242.3 L459.55 242.41 L459.7 242.51 L459.86 242.62 L460.01 242.72 L460.17 242.82 L460.32 242.92 L460.48 243.02 L460.63 243.12 L460.79 243.21 L460.94 243.3 L461.09 243.39 L461.25 243.48 L461.4 243.56 L461.56 243.64 L461.71 243.73 L461.87 243.81 L462.02 243.9 L462.18 243.98 L462.33 244.07 L462.49 244.15 L462.64 244.24 L462.8 244.32 L462.95 244.41 L463.11 244.49 L463.26 244.58 L463.42 244.66 L463.57 244.75 L463.73 244.83 L463.88 244.91 L464.04 244.99 L464.19 245.06 L464.35 245.14 L464.5 245.21 L464.66 245.28 L464.81 245.35 L464.97 245.42 L465.12 245.48 L465.28 245.54 L465.43 245.59 L465.59 245.65 L465.74 245.7 L465.9 245.75 L466.05 245.79 L466.21 245.83 L466.36 245.86 L466.52 245.89 L466.67 245.92 L466.83 245.94 L466.98 245.96 L467.14 245.99 L467.29 246.01 L467.44 246.03 L467.6 246.05 L467.75 246.07 L467.91 246.09 L468.06 246.11 L468.22 246.13 L468.37 246.15 L468.53 246.17 L468.68 246.19 L468.84 246.21 L468.99 246.22 L469.15 246.24 L469.3 246.25 L469.46 246.27 L469.61 246.28 L469.77 246.29 L469.92 246.3 L470.08 246.31 L470.23 246.32 L470.39 246.33 L470.54 246.34 L470.7 246.34 L470.85 246.35 L471.01 246.35 L471.16 246.35 L471.32 246.35 L471.47 246.35 L471.63 246.35 L471.78 246.33 L471.94 246.32 L472.09 246.29 L472.25 246.27 L472.4 246.23 L472.56 246.19 L472.71 246.15 L472.87 246.11 L473.02 246.06 L473.18 246 L473.33 245.95 L473.49 245.88 L473.64 245.82 L473.79 245.76 L473.95 245.69 L474.1 245.62 L474.26 245.54 L474.41 245.47 L474.57 245.39 L474.72 245.31 L474.88 245.23 L475.03 245.15 L475.19 245.07 L475.34 244.99 L475.5 244.91 L475.65 244.82 L475.81 244.73 L475.96 244.63 L476.12 244.52 L476.27 244.41 L476.43 244.29 L476.58 244.16 L476.74 244.03 L476.89 243.89 L477.05 243.74 L477.2 243.59 L477.36 243.43 L477.51 243.27 L477.67 243.1 L477.82 242.93 L477.98 242.75 L478.13 242.56 L478.29 242.37 L478.44 242.18 L478.6 241.98 L478.75 241.78 L478.91 241.57 L479.06 241.36 L479.22 241.15 L479.37 240.93 L479.53 240.7 L479.68 240.47 L479.84 240.21 L479.99 239.95 L480.14 239.67 L480.3 239.38 L480.45 239.08 L480.61 238.77 L480.76 238.45 L480.92 238.11 L481.07 237.76 L481.23 237.4 L481.38 237.04 L481.54 236.66 L481.69 236.27 L481.85 235.87 L482 235.46 L482.16 235.04 L482.31 234.62 L482.47 234.18 L482.62 233.73 L482.78 233.26 L482.93 232.77 L483.09 232.26 L483.24 231.73 L483.4 231.19 L483.55 230.63 L483.71 230.05 L483.86 229.45 L484.02 228.83 L484.17 228.2 L484.33 227.55 L484.48 226.88 L484.64 226.19 L484.79 225.48 L484.95 224.76 L485.1 224.02 L485.26 223.25 L485.41 222.47 L485.57 221.67 L485.72 220.81 L485.88 219.9 L486.03 218.93 L486.19 217.92 L486.34 216.86 L486.49 215.76 L486.65 214.63 L486.8 213.47 L486.96 212.27 L487.11 211.06 L487.27 209.83 L487.42 208.6 L487.58 207.36 L487.73 206.12 L487.89 204.89 L488.04 203.68 L488.2 202.49 L488.35 201.34 L488.51 200.23 L488.66 199.15 L488.82 198.07 L488.97 197 L489.13 195.94 L489.28 194.88 L489.44 193.82 L489.59 192.77 L489.75 191.72 L489.9 190.68 L490.06 189.64 L490.21 188.6 L490.37 187.57 L490.52 186.54 L490.68 185.51 L490.83 184.47 L490.99 183.44 L491.14 182.41 L491.3 181.38 L491.45 180.35 L491.61 179.31 L491.76 178.27 L491.92 177.24 L492.07 176.23 L492.23 175.23 L492.38 174.24 L492.54 173.26 L492.69 172.29 L492.84 171.33 L493 170.38 L493.15 169.42 L493.31 168.47 L493.46 167.52 L493.62 166.56 L493.77 165.6 L493.93 164.63 L494.08 163.65 L494.24 162.65 L494.39 161.64 L494.55 160.61 L494.7 159.56 L494.86 158.49 L495.01 157.39 L495.17 156.26 L495.32 155.1 L495.48 153.9 L495.63 152.67 L495.79 151.39 L495.94 150.06 L496.1 148.69 L496.25 147.28 L496.41 145.83 L496.56 144.34 L496.72 142.81 L496.87 141.24 L497.03 139.63 L497.18 137.97 L497.34 136.27 L497.49 134.53 L497.65 132.75 L497.8 130.92 L497.96 129.04 L498.11 127.12 L498.27 125.15 L498.42 123.14 L498.58 121.08 L498.73 118.97 L498.88 116.81 L499.04 114.6 L499.19 112.34 L499.35 110 L499.5 107.57 L499.66 105.04 L499.81 102.41 L499.97 99.7 L500.12 96.9 L500.28 94.03 L500.43 91.07 L500.59 88.05 L500.74 84.97 L500.9 81.83 L501.05 78.63 L501.21 75.4 L501.36 72.12 L501.52 68.82 L501.67 65.49 L501.83 62.12 L501.98 58.7 L502.14 55.21 L502.29 51.66 L502.45 48.05 L502.6 44.38 L502.76 40.65 L502.91 36.84 L503.07 32.98 L503.22 29.04 L503.38 25.03 L503.53 20.96 L503.69 16.81 L503.84 12.59 L504 8.3" fill="none" stroke="#b4b4b4" stroke-width="3.8" stroke-linejoin="round"/>
<line x1="510.8" y1="127.8" x2="499.29" y2="146.35" stroke="#222" stroke-width="1"/><path d="M495.6 152.3 L496.74 144.77 L501.84 147.93 Z" fill="#222"/>
<line x1="542.6" y1="211.5" x2="557.01" y2="232.25" stroke="#222" stroke-width="1"/><path d="M561 238 L554.54 233.96 L559.47 230.54 Z" fill="#222"/>
<g font-size="11" fill="#555" stroke="#555" stroke-width="0.15" text-anchor="middle"><text x="533.5" y="111">10Gy</text><text x="532.8" y="125">(100%)</text><text x="527" y="194.8">10Gy</text><text x="528.3" y="208.5">(50%)</text></g>
<g stroke="#727272" stroke-width="1.1"><path d="M442.2 8.3 V297.2 H589.1" fill="none"/><line x1="442.2" y1="297.2" x2="444.9" y2="297.2"/><line x1="442.2" y1="224.97" x2="444.9" y2="224.97"/><line x1="442.2" y1="152.75" x2="444.9" y2="152.75"/><line x1="442.2" y1="80.53" x2="444.9" y2="80.53"/><line x1="442.2" y1="8.3" x2="444.9" y2="8.3"/><line x1="442.2" y1="297.2" x2="442.2" y2="294.5"/><line x1="491.17" y1="297.2" x2="491.17" y2="294.5"/><line x1="540.13" y1="297.2" x2="540.13" y2="294.5"/><line x1="589.1" y1="297.2" x2="589.1" y2="294.5"/></g>
<g font-size="14.2" fill="#5a5a5a" stroke="#5a5a5a" stroke-width="0.25"><text x="434.9" y="302.5" text-anchor="end">0</text><text x="434.9" y="230.28" text-anchor="end">0.5</text><text x="434.9" y="158.05" text-anchor="end">1</text><text x="434.9" y="85.83" text-anchor="end">1.5</text><text x="434.9" y="13.6" text-anchor="end">2</text><text x="442.2" y="315.9" text-anchor="middle">0</text><text x="491.17" y="315.9" text-anchor="middle">50</text><text x="540.13" y="315.9" text-anchor="middle">100</text><text x="589.1" y="315.9" text-anchor="middle">150</text></g>
<text x="515.65" y="333.2" font-size="15.3" fill="#505050" stroke="#505050" stroke-width="0.25" text-anchor="middle">Days (n)</text>
<text transform="translate(12 216.5) rotate(-90)" font-size="14.5" fill="#505050" stroke="#505050" stroke-width="0.25" letter-spacing="0.72">Immune effect, Z<tspan font-size="10" dy="6.8" letter-spacing="0">n</tspan></text>
<text transform="translate(218 253.8) rotate(-90)" font-size="14.5" fill="#505050" stroke="#505050" stroke-width="0.25" letter-spacing="0.84">Tumor volume (T<tspan font-size="10" dy="6.8">n</tspan><tspan dy="-6.8"> + D</tspan><tspan font-size="10" dy="6.8">n</tspan><tspan dy="-6.8">) [cc]</tspan></text>
<text transform="translate(413.5 253.8) rotate(-90)" font-size="14.5" fill="#505050" stroke="#505050" stroke-width="0.25" letter-spacing="0.84">Tumor volume (T<tspan font-size="10" dy="6.8">n</tspan><tspan dy="-6.8"> + D</tspan><tspan font-size="10" dy="6.8">n</tspan><tspan dy="-6.8">) [cc]</tspan></text>
<g font-size="17" fill="#2a2a2a" stroke="#2a2a2a" stroke-width="0.25"><text x="9.5" y="13.6">(A)</text><text x="202.6" y="13.6">(B)</text><text x="397.3" y="13.6">(C)</text></g>
</svg></body></html>
